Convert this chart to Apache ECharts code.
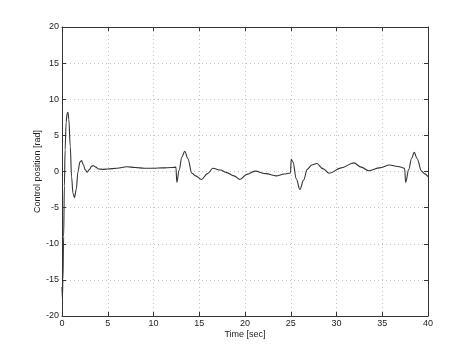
<!DOCTYPE html>
<html>
<head>
<meta charset="utf-8">
<script src="https://cdn.jsdelivr.net/npm/echarts@6/dist/echarts.min.js"></script>
<style>
html, body { margin: 0; padding: 0; background: #fff; }
#chart { width: 474px; height: 355px; }
</style>
</head>
<body>
<div id="chart"></div>
<script>
// time samples [sec]
var times = [0, 0.04, 0.1, 0.18, 0.26, 0.34, 0.45, 0.55, 0.65, 0.75, 0.9, 1.05, 1.2, 1.37, 1.55, 1.75, 1.95, 2.14,
    2.35, 2.55, 2.76, 3.0, 3.25, 3.45, 3.7, 4.0, 4.5, 5.0, 6.0, 7.1, 8.0, 9.0, 10.0, 11.0, 12.0, 12.45,
    12.55, 12.8, 13.1, 13.42, 13.75, 14.2, 14.6, 15.25, 15.9, 16.5, 17.3, 18.0, 18.8, 19.45, 20.2, 21.1,
    22.3, 23.4, 24.3, 24.97, 25.05, 25.25, 25.6, 26.0, 26.4, 26.8, 27.3, 27.85, 28.5, 29.2, 30.5, 31.9,
    32.7, 33.55, 34.7, 35.8, 36.7, 37.45, 37.55, 37.9, 38.2, 38.5, 38.8, 39.3, 39.6, 40];
// control position [rad]
var position = [-16, -17.5, -15, -9, -2, 3, 6.8, 8, 8.2, 7.2, 3.5, -0.8, -3, -3.6, -2.5, 0, 1.3, 1.5,
    0.9, 0.2, -0.1, 0.3, 0.75, 0.8, 0.6, 0.35, 0.3, 0.35, 0.45, 0.65, 0.55, 0.45, 0.45, 0.5, 0.55, 0.6,
    -1.5, 0.2, 2.0, 2.8, 1.8, -0.25, -0.6, -1.1, -0.3, 0.45, 0.2, -0.15, -0.6, -1.1, -0.4, 0.05,
    -0.3, -0.6, -0.35, -0.2, 1.7, 1.3, -1.0, -2.5, -1.2, 0.3, 0.9, 1.1, 0.4, -0.25, 0.5, 1.2,
    0.6, 0.1, 0.5, 0.9, 0.7, 0.45, -1.5, 0.3, 1.8, 2.65, 1.8, 0.05, -0.3, -0.7];

var xTicks = [0, 40, 5];   // min, max, step
var yTicks = [-20, 20, 5];

var chart = echarts.init(document.getElementById('chart'));

var points = [];
for (var i = 0; i < times.length; i++) {
    points.push([times[i], position[i]]);
}

var font = '"Liberation Sans", Arial, sans-serif';
var frame = { show: true, onZero: false, lineStyle: { color: '#333', width: 1 } };
var tick = { show: true, inside: true, length: 4, lineStyle: { color: '#333' } };
var dotted = { show: true, lineStyle: { color: '#c4c4c4', type: [1, 3], width: 1 } };

var option = {
    animation: false,
    backgroundColor: '#fff',
    grid: { left: 62, right: 46, top: 27, bottom: 39, containLabel: false },
    xAxis: [
        {
            type: 'value', min: xTicks[0], max: xTicks[1], interval: xTicks[2],
            position: 'bottom',
            name: 'Time [sec]', nameLocation: 'middle', nameGap: 14,
            nameMoveOverlap: false,
            nameTextStyle: { fontFamily: font, fontSize: 9, color: '#222' },
            axisLine: frame, axisTick: tick, splitLine: dotted,
            axisLabel: { margin: 3, fontFamily: font, fontSize: 9, color: '#222' }
        },
        {
            type: 'value', min: xTicks[0], max: xTicks[1], interval: xTicks[2],
            position: 'top',
            axisLine: frame, axisTick: tick, splitLine: { show: false },
            axisLabel: { show: false }
        }
    ],
    yAxis: [
        {
            type: 'value', min: yTicks[0], max: yTicks[1], interval: yTicks[2],
            position: 'left',
            name: 'Control position [rad]', nameLocation: 'middle', nameGap: 20,
            nameMoveOverlap: false,
            nameTextStyle: { fontFamily: font, fontSize: 9, color: '#222' },
            axisLine: frame, axisTick: tick, splitLine: dotted,
            axisLabel: { margin: 3, fontFamily: font, fontSize: 9, color: '#222' }
        },
        {
            type: 'value', min: yTicks[0], max: yTicks[1], interval: yTicks[2],
            position: 'right',
            axisLine: frame, axisTick: tick, splitLine: { show: false },
            axisLabel: { show: false }
        }
    ],
    series: [
        {
            type: 'line',
            data: points,
            xAxisIndex: 0,
            yAxisIndex: 0,
            showSymbol: false,
            smooth: 0.35,
            smoothMonotone: 'x',
            lineStyle: { color: '#333', width: 1.1 }
        }
    ]
};

chart.setOption(option);
</script>
</body>
</html>
